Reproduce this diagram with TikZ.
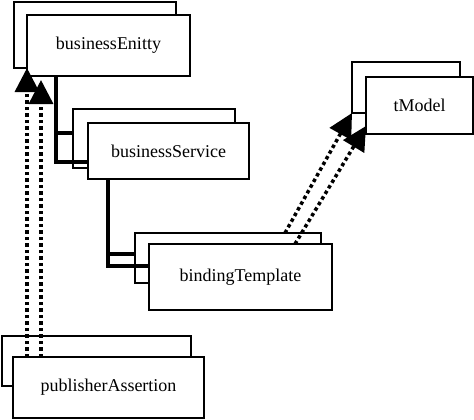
\documentclass[tikz,border=0pt]{standalone}
\usepackage{fontspec}
\setmainfont{Liberation Serif}
\usetikzlibrary{calc,arrows.meta}
\begin{document}
\begin{tikzpicture}[x=1pt,y=-1pt,
  box/.style={draw=black,fill=white,line width=2.2pt,inner sep=0pt,outer sep=0pt,
    font=\fontsize{18}{20}\selectfont},
  conn/.style={draw=black,line width=3.2pt},
  dotarrow/.style={draw=black,line width=3.5pt,dash pattern=on 3.5pt off 3pt,
    -{Triangle[length=24pt,width=24pt]}}]
\useasboundingbox (0,0) rectangle (474,420);
% back boxes and front boxes
\node[box,minimum width=162pt,minimum height=66pt] (beB) at (95,35) {};
\node[box,minimum width=163pt,minimum height=61pt] (be) at (108.5,45.5) {businessEnitty};
\node[box,minimum width=162pt,minimum height=59pt] (bsB) at (154,138.5) {};
\node[box,minimum width=161pt,minimum height=56pt] (bs) at (168.5,151) {businessService};
\node[box,minimum width=186pt,minimum height=50pt] (btB) at (228,258) {};
\node[box,minimum width=183pt,minimum height=66pt] (bt) at (240.5,277) {bindingTemplate};
\node[box,minimum width=108pt,minimum height=51pt] (tmB) at (406,87.5) {};
\node[box,minimum width=107pt,minimum height=57pt] (tm) at (419.5,105.5) {tModel};
\node[box,minimum width=189pt,minimum height=50pt] (paB) at (96.5,361) {};
\node[box,minimum width=191pt,minimum height=61pt] (pa) at (108.5,387.5) {publisherAssertion};
% containment connectors
\draw[conn] ($(be.south west)+(29,0)$) |- ($(bs.north west)+(0,39)$);
\draw[conn] ($(be.south west)+(29,57)$) -- ($(bsB.north west)+(0,24)$);
\draw[conn] ($(bs.south west)+(20,0)$) |- ($(bt.north west)+(0,22)$);
\draw[conn] ($(bs.south west)+(20,75)$) -- ($(btB.north west)+(0,21)$);
% dotted reference arrows
\draw[dotarrow] ($(pa.north west)+(14,0)$) -- ($(beB.south west)+(13,0)$);
\draw[dotarrow] ($(pa.north west)+(28,0)$) -- ($(be.south west)+(14,4)$);
\draw[dotarrow] ($(btB.north west)+(150,0)$) -- (tmB.south west);
\draw[dotarrow] ($(bt.north west)+(146,0)$) -- ($(tm.north west)+(0,49)$);
\end{tikzpicture}
\end{document}
